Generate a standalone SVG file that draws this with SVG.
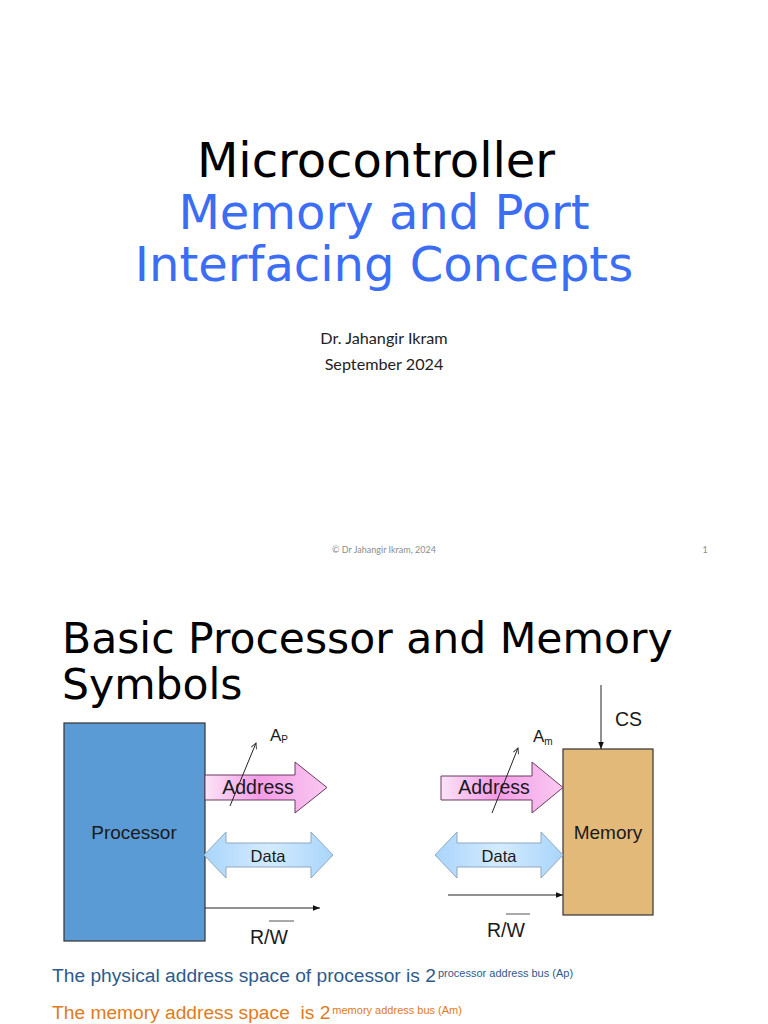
<svg xmlns="http://www.w3.org/2000/svg" width="768" height="1024" viewBox="0 0 768 1024">
<style>
.title{font-family:"DejaVu Sans",sans-serif;}
.cal{font-family:Lato,"Liberation Sans",sans-serif;}
.lab{font-family:"Liberation Sans",Arial,sans-serif;fill:#1a1a1a;}
.box{stroke:#333;stroke-width:1.2;}
.thin{stroke:#222;stroke-width:1;fill:none;}
</style>
<defs>
<linearGradient id="gAddr" x1="0" y1="0" x2="1" y2="0">
<stop offset="0" stop-color="#fbe3f7"/>
<stop offset="0.45" stop-color="#f49ce6"/>
<stop offset="1" stop-color="#f9c9f1"/>
</linearGradient>
<linearGradient id="gData" x1="0" y1="0" x2="1" y2="0">
<stop offset="0" stop-color="#a9d5fb"/>
<stop offset="0.5" stop-color="#d4ebff"/>
<stop offset="1" stop-color="#a9d5fb"/>
</linearGradient>
<marker id="open" viewBox="0 0 10 10" refX="9" refY="5" markerWidth="7" markerHeight="7" orient="auto">
<path d="M1,1 L9,5 L1,9" fill="none" stroke="#333" stroke-width="1.3"/>
</marker>
<marker id="fill" viewBox="0 0 10 10" refX="10" refY="5" markerWidth="7" markerHeight="7" orient="auto">
<path d="M0,1 L10,5 L0,9 Z" fill="#111"/>
</marker>
</defs>
<rect width="768" height="1024" fill="#fff"/>

<!-- Slide 1 -->
<g id="slide1">
<text class="title" x="376" y="177" font-size="48" text-anchor="middle" fill="#000">Microcontroller</text>
<text class="title" x="384" y="229" font-size="48" text-anchor="middle" fill="#3b6ef5">Memory and Port</text>
<text class="title" x="384" y="281" font-size="48" text-anchor="middle" fill="#3b6ef5">Interfacing Concepts</text>
<text class="cal" x="384" y="344" font-size="16.2" text-anchor="middle" fill="#222">Dr. Jahangir Ikram</text>
<text class="cal" x="384" y="370" font-size="16.2" text-anchor="middle" fill="#222">September 2024</text>
<text class="cal" x="384" y="553" font-size="9" text-anchor="middle" fill="#8c8c8c">© Dr Jahangir Ikram, 2024</text>
<text class="cal" x="705" y="553" font-size="9" text-anchor="middle" fill="#8c8c8c">1</text>
</g>

<!-- Slide 2 -->
<g id="slide2-title">
<text class="title" x="62" y="653" font-size="42.5" fill="#000">Basic Processor and Memory</text>
<text class="title" x="62" y="699" font-size="42.5" fill="#000">Symbols</text>
</g>

<g id="processor">
<rect class="box" x="64" y="723" width="141" height="218" fill="#5b9bd5"/>
<text class="lab" x="134" y="839" font-size="19" text-anchor="middle">Processor</text>
</g>

<g id="memory">
<rect class="box" x="563" y="749" width="90" height="166" fill="#e3b97a"/>
<text class="lab" x="608" y="839" font-size="19" text-anchor="middle">Memory</text>
</g>

<g id="connectors">
<!-- processor address -->
<path d="M205,775 L295,775 L295,762 L327,787.5 L295,813 L295,800 L205,800 Z" fill="url(#gAddr)" stroke="#6b3a60" stroke-width="1"/>
<text class="lab" x="258" y="794" font-size="19.5" text-anchor="middle">Address</text>
<line class="thin" x1="230" y1="806" x2="256" y2="743" marker-end="url(#open)" stroke="#555"/>
<text class="lab" x="270" y="741" font-size="17">A<tspan font-size="10" dy="2">P</tspan></text>
<!-- processor data -->
<path d="M204,855 L226,832 L226,843 L311,843 L311,832 L333,855 L311,878 L311,867 L226,867 L226,878 Z" fill="url(#gData)" stroke="#8fa7bf" stroke-width="1"/>
<text class="lab" x="268" y="862" font-size="16.5" text-anchor="middle" fill="#333">Data</text>
<!-- processor R/W -->
<line class="thin" x1="205" y1="908" x2="320" y2="908" marker-end="url(#fill)"/>
<text class="lab" x="250" y="944" font-size="19.5">R/W</text>
<line x1="269" y1="921" x2="294" y2="921" stroke="#555" stroke-width="1"/>

<!-- memory CS -->
<line class="thin" x1="601" y1="685" x2="601" y2="749" marker-end="url(#fill)"/>
<text class="lab" x="615" y="726" font-size="19.5">CS</text>
<!-- memory address -->
<path d="M441,776 L532,776 L532,762 L563,787.5 L532,813 L532,800 L441,800 Z" fill="url(#gAddr)" stroke="#6b3a60" stroke-width="1"/>
<text class="lab" x="494" y="794" font-size="19.5" text-anchor="middle">Address</text>
<line class="thin" x1="492" y1="813" x2="518" y2="748" marker-end="url(#open)" stroke="#555"/>
<text class="lab" x="533" y="742" font-size="17">A<tspan font-size="10" dy="3">m</tspan></text>
<!-- memory data -->
<path d="M435,855 L457,832 L457,843 L541,843 L541,832 L563,855 L541,878 L541,867 L457,867 L457,878 Z" fill="url(#gData)" stroke="#8fa7bf" stroke-width="1"/>
<text class="lab" x="499" y="862" font-size="16.5" text-anchor="middle" fill="#333">Data</text>
<!-- memory R/W -->
<line class="thin" x1="448" y1="895" x2="563" y2="895" marker-end="url(#fill)"/>
<text class="lab" x="487" y="937" font-size="19.5">R/W</text>
<line x1="506" y1="914" x2="530" y2="914" stroke="#555" stroke-width="1"/>
</g>

<g id="notes">
<text class="lab" x="52" y="982" font-size="19.2" style="fill:#2e5a8c">The physical address space of processor is 2<tspan font-size="11" dy="-5" dx="2">processor address bus (Ap)</tspan></text>
<text class="lab" x="52" y="1019" font-size="19.2" style="fill:#e07b20;white-space:pre" xml:space="preserve">The memory address space  is 2<tspan font-size="11" dy="-5" dx="2">memory address bus (Am)</tspan></text>
</g>
</svg>
